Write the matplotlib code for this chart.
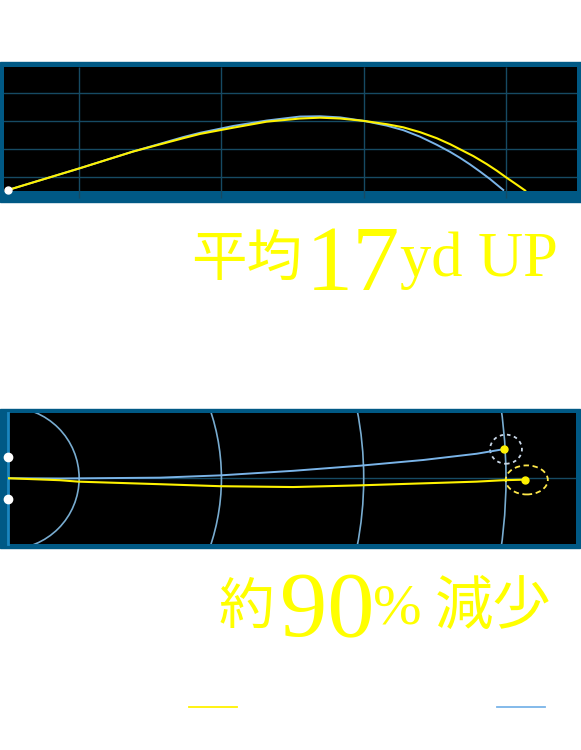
import matplotlib
matplotlib.use("Agg")
import matplotlib.pyplot as plt
from matplotlib.patches import Rectangle, Circle, Ellipse
from matplotlib.lines import Line2D

# trajectory seen from the side (carry yd, height yd)
side_x_yellow = [0, 25.1, 43.9, 61.6, 67.5, 79.2, 90.9, 102.6, 109.6, 116.7,
                 124.8, 133.1, 138.9, 144.8, 150.6, 155.3, 158.8, 163.5, 168.2,
                 171.7, 175.2, 178.7, 181.7]
side_h_yellow = [0, 7.6, 13.5, 18.2, 19.7, 21.9, 24.0, 25.1, 25.4, 25.1,
                 24.3, 23.1, 22.0, 20.3, 18.2, 16.1, 14.3, 11.9, 9.1,
                 6.8, 4.3, 1.9, -0.2]
side_x_blue = [0, 25.1, 43.9, 61.6, 67.5, 79.2, 90.9, 102.6, 109.6, 116.7,
               124.8, 133.1, 138.9, 144.8, 150.6, 155.3, 158.8, 162.3, 165.8,
               169.4, 174.0]
side_h_blue = [0, 7.6, 13.5, 18.6, 20.1, 22.5, 24.4, 25.8, 25.9, 25.5,
               24.3, 22.6, 21.0, 18.7, 15.9, 13.4, 11.3, 9.0, 6.5,
               3.8, 0]

# trajectory seen from above (carry yd, lateral yd)
top_x_yellow = [0, 18.3, 24.7, 53.4, 74.5, 100.2, 123.7, 145.9, 164.7, 174.0, 181.7]
top_y_yellow = [0, -0.7, -1.2, -2.1, -2.8, -3.1, -2.5, -1.8, -1.2, -0.7, -0.5]
top_x_blue = [0, 18.3, 53.4, 74.5, 100.2, 123.7, 145.9, 164.7, 174.2]
top_y_blue = [0, -0.1, 0.2, 1.0, 2.6, 4.4, 6.4, 8.6, 10.2]

dist_rings = [25, 75, 125, 175]
height_grid = [4.5, 14.4, 24.3, 34.2]
tee_marks = [7.5, -7.3]

# landing dispersion (center x, center y, width, height)
spread_blue = (175.0, 10.2, 11.2, 10.2)
spread_yellow = (182.3, -0.6, 14.8, 10.2)

YELLOW = "#fff200"
BLUE = "#7ab4e8"
FRAME = "#005985"
GRID = "#164a63"
RING = "#78acd0"

W, H = 581, 750
fig = plt.figure(figsize=(W / 100, H / 100), dpi=100)
fig.patch.set_facecolor("white")


def fx(px):
    return px / W


def fy(py):
    return 1 - py / H


# frames behind the panels
fig.patches.append(Rectangle((0, fy(201.5)), 1, fy(62) - fy(201.5),
                             transform=fig.transFigure, color=FRAME, zorder=-5))
fig.patches.append(Rectangle((0, fy(548)), 580 / W, fy(409) - fy(548),
                             transform=fig.transFigure, color=FRAME, zorder=-5))

# side view
ax1 = fig.add_axes([fx(4), fy(191), fx(573), fy(66.7) - fy(191)])
ax1.set_facecolor("black")
ax1.set_xlim(-1.41, 199.9)
ax1.set_ylim(-0.35, 43.3)
for h in height_grid:
    ax1.axhline(h, color=GRID, lw=1, zorder=1)
ax1.vlines(dist_rings, -2.7, 43.3, color=GRID, lw=1, zorder=1, clip_on=False)
ax1.plot(side_x_blue, side_h_blue, color=BLUE, lw=1.4, zorder=3)
ax1.plot(side_x_yellow, side_h_yellow, color=YELLOW, lw=1.5, zorder=4)
ax1.plot([0], [0], "o", color="white", ms=5, zorder=5, clip_on=False)
ax1.set_xticks([])
ax1.set_yticks([])
for s in ax1.spines.values():
    s.set_visible(False)

# top view
ax2 = fig.add_axes([fx(8), fy(544), fx(568), fy(413.3) - fy(544)])
ax2.set_facecolor("black")
ax2.set_xlim(0, 199.6)
ax2.set_ylim(-23.1, 22.8)
ax2.axhline(0, color=GRID, lw=1, zorder=1)
for r in dist_rings:
    ax2.add_patch(Circle((0, 0), r, fill=False, ec=RING, lw=1.2, zorder=2))
ax2.axvline(0, color="#1a86c0", lw=2, zorder=2, clip_on=False)
ax2.plot([0] * len(tee_marks), tee_marks, "o", color="white", ms=6,
         zorder=5, clip_on=False)
cx, cy, ew, eh = spread_blue
ax2.add_patch(Ellipse((cx, cy), ew, eh, fill=False, ec="#c8d6e6", lw=1.3,
                      ls=(0, (2, 2)), zorder=3))
cx, cy, ew, eh = spread_yellow
ax2.add_patch(Ellipse((cx, cy), ew, eh, fill=False, ec="#ffe84a", lw=1.3,
                      ls=(0, (3, 2)), zorder=3))
ax2.plot(top_x_blue, top_y_blue, color=BLUE, lw=1.4, zorder=4)
ax2.plot(top_x_yellow, top_y_yellow, color=YELLOW, lw=1.5, zorder=4)
ax2.plot(top_x_blue[-1], top_y_blue[-1], "o", color=YELLOW, ms=5, zorder=6)
ax2.plot(top_x_yellow[-1], top_y_yellow[-1], "o", color=YELLOW, ms=5, zorder=6)
ax2.set_xticks([])
ax2.set_yticks([])
for s in ax2.spines.values():
    s.set_visible(False)

# headline texts
CJK = ["Noto Sans CJK JP", "DejaVu Sans"]
SERIF = ["Liberation Serif", "DejaVu Serif"]
TXT = "#ffff00"

fig.text(fx(191), fy(277), "平均", family=CJK, fontsize=40, color=TXT, va="baseline")
fig.text(fx(306), fy(290), "17", family=SERIF, fontsize=68, color=TXT, va="baseline")
fig.text(fx(400), fy(276), "yd UP", family=SERIF, fontsize=45, color=TXT, va="baseline")

fig.text(fx(219), fy(624), "約", family=CJK, fontsize=40, color=TXT, va="baseline")
fig.text(fx(280), fy(636), "90", family=SERIF, fontsize=68, color=TXT, va="baseline")
fig.text(fx(373), fy(624), "%", family=SERIF, fontsize=42, color=TXT, va="baseline")
fig.text(fx(435), fy(624), "減少", family=CJK, fontsize=42, color=TXT, va="baseline")

# legend swatches
for color, left in [(YELLOW, 189), (BLUE, 497)]:
    fig.legend(handles=[Line2D([], [], color=color, lw=1.3)], labels=[" "],
               loc="center left", bbox_to_anchor=(fx(left), fy(707.7)),
               frameon=False, fontsize=10, handlelength=3.46,
               borderpad=0, borderaxespad=0)

fig.savefig("out.png", dpi=100, facecolor="white")
